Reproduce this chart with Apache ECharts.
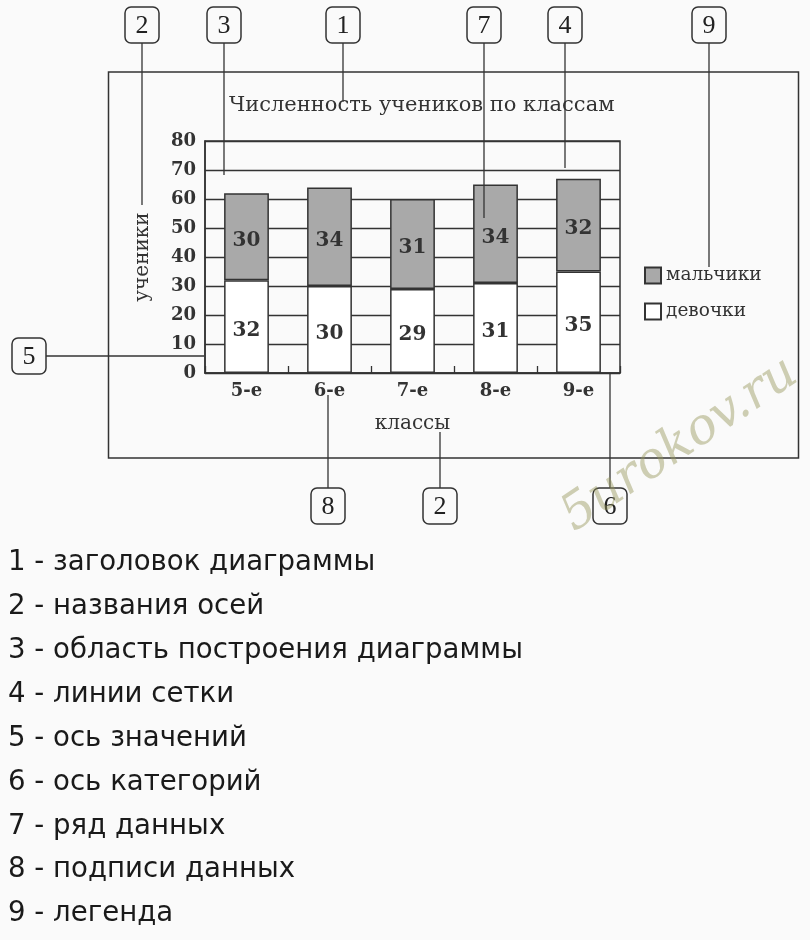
<!DOCTYPE html>
<html><head><meta charset="utf-8">
<script src="https://cdn.jsdelivr.net/npm/echarts@6/dist/echarts.min.js"></script>
<style>html,body{margin:0;padding:0;background:#fafafa}#c{width:810px;height:940px}</style>
</head><body><div id="c"></div>
<script>
// ---- data ----
const categories = ['5-е', '6-е', '7-е', '8-е', '9-е'];
const girls = [32, 30, 29, 31, 35];
const boys = [30, 34, 31, 34, 32];
const seriesNames = ['мальчики', 'девочки'];
const titleText = 'Численность учеников по классам';
const xAxisName = 'классы';
const yAxisName = 'ученики';
const yMin = 0, yMax = 80, yStep = 10;
const notes = [
  '1 - заголовок диаграммы',
  '2 - названия осей',
  '3 - область построения диаграммы',
  '4 - линии сетки',
  '5 - ось значений',
  '6 - ось категорий',
  '7 - ряд данных',
  '8 - подписи данных',
  '9 - легенда'
];
const watermark = '5urokov.ru';

// ---- layout for annotation callouts ----
const INK = '#333';
const SERIF = 'DejaVu Serif';
const callouts = [
  // label, box center x, box center y, line end x, line end y
  ['2', 142, 25, 142, 205],
  ['3', 224, 25, 224, 175],
  ['1', 343, 25, 343, 102],
  ['7', 484, 25, 484, 218],
  ['4', 565, 25, 565, 168],
  ['9', 709, 25, 709, 267],
  ['5', 29, 356, 204, 356],
  ['8', 328, 506, 328, 395],
  ['2', 440, 506, 440, 432],
  ['6', 610, 506, 610, 373]
];

const graphics = [];
// outer chart frame
graphics.push({type: 'rect', shape: {x: 108.5, y: 72, width: 690, height: 386},
  style: {fill: 'none', stroke: INK, lineWidth: 1.5}, z: 1});
callouts.forEach(([lab, cx, cy, ex, ey]) => {
  const w = 34, h = 36;
  let sx = cx, sy = cy;
  if (ex === cx) { sy = ey > cy ? cy + h / 2 : cy - h / 2; }
  else { sx = ex > cx ? cx + w / 2 : cx - w / 2; }
  graphics.push({type: 'line', shape: {x1: sx, y1: sy, x2: ex, y2: ey},
    style: {stroke: INK, lineWidth: 1.3}, z: 5});
  graphics.push({type: 'rect', shape: {x: cx - w / 2, y: cy - h / 2, width: w, height: h, r: 6},
    style: {fill: '#fafafa', stroke: INK, lineWidth: 1.5}, z: 6});
  graphics.push({type: 'text', x: cx, y: cy + 1, style: {text: lab, fill: '#222',
    font: '26px "Liberation Serif"', align: 'center', verticalAlign: 'middle'}, z: 7});
});
notes.forEach((t, i) => {
  graphics.push({type: 'text', x: 8, y: 563 + i * 43.9, style: {text: t, fill: '#1a1a1a',
    font: '27.6px "DejaVu Sans"', align: 'left', verticalAlign: 'middle'}, z: 5});
});
graphics.push({type: 'text', x: 680, y: 445, rotation: 34 * Math.PI / 180,
  style: {text: watermark, fill: 'rgba(150,150,90,0.45)', font: 'italic 50px "DejaVu Serif"',
    align: 'center', verticalAlign: 'middle'}, z: 20});

const barLabel = {show: true, position: 'inside', offset: [0, 4], fontFamily: SERIF,
  fontSize: 20, fontWeight: 'bold', color: INK};

const chart = echarts.init(document.getElementById('c'), null, {renderer: 'canvas'});
chart.setOption({
  backgroundColor: '#fafafa',
  animation: false,
  title: {text: titleText, left: 229, top: 95, padding: 0,
    textStyle: {fontFamily: SERIF, fontSize: 21, fontWeight: 'normal', color: INK}},
  legend: {data: seriesNames, orient: 'vertical', left: 644, top: 266, padding: 0,
    itemWidth: 16, itemHeight: 16, itemGap: 17, icon: 'rect',
    textStyle: {fontFamily: SERIF, fontSize: 18.5, color: INK}},
  grid: {left: 205, right: 190, top: 141, bottom: 567, show: true, borderColor: INK, borderWidth: 1.5,
    containLabel: false},
  xAxis: {type: 'category', data: categories, name: xAxisName, nameLocation: 'middle', nameGap: 41,
    nameTextStyle: {fontFamily: SERIF, fontSize: 20, color: INK},
    axisLine: {show: true, lineStyle: {color: INK, width: 1.5}},
    axisTick: {show: true, inside: true, length: 7, lineStyle: {color: INK, width: 1.3}},
    axisLabel: {fontFamily: SERIF, fontSize: 18, fontWeight: 'bold', color: INK, margin: 9}},
  yAxis: {type: 'value', min: yMin, max: yMax, interval: yStep, name: yAxisName,
    nameLocation: 'middle', nameGap: 52, nameRotate: 90,
    nameTextStyle: {fontFamily: SERIF, fontSize: 20, color: INK},
    axisLine: {show: true, lineStyle: {color: INK, width: 1.5}},
    axisTick: {show: false},
    axisLabel: {fontFamily: SERIF, fontSize: 18, fontWeight: 'bold', color: INK, margin: 9},
    splitLine: {show: true, lineStyle: {color: INK, width: 1.3}}},
  series: [
    {name: seriesNames[1], type: 'bar', stack: 'all', data: girls, barWidth: '54%',
      itemStyle: {color: '#ffffff', borderColor: INK, borderWidth: 1.5}, label: barLabel},
    {name: seriesNames[0], type: 'bar', stack: 'all', data: boys, barWidth: '54%',
      itemStyle: {color: '#a9a9a9', borderColor: INK, borderWidth: 1.5}, label: barLabel}
  ],
  graphic: graphics
});
</script></body></html>
